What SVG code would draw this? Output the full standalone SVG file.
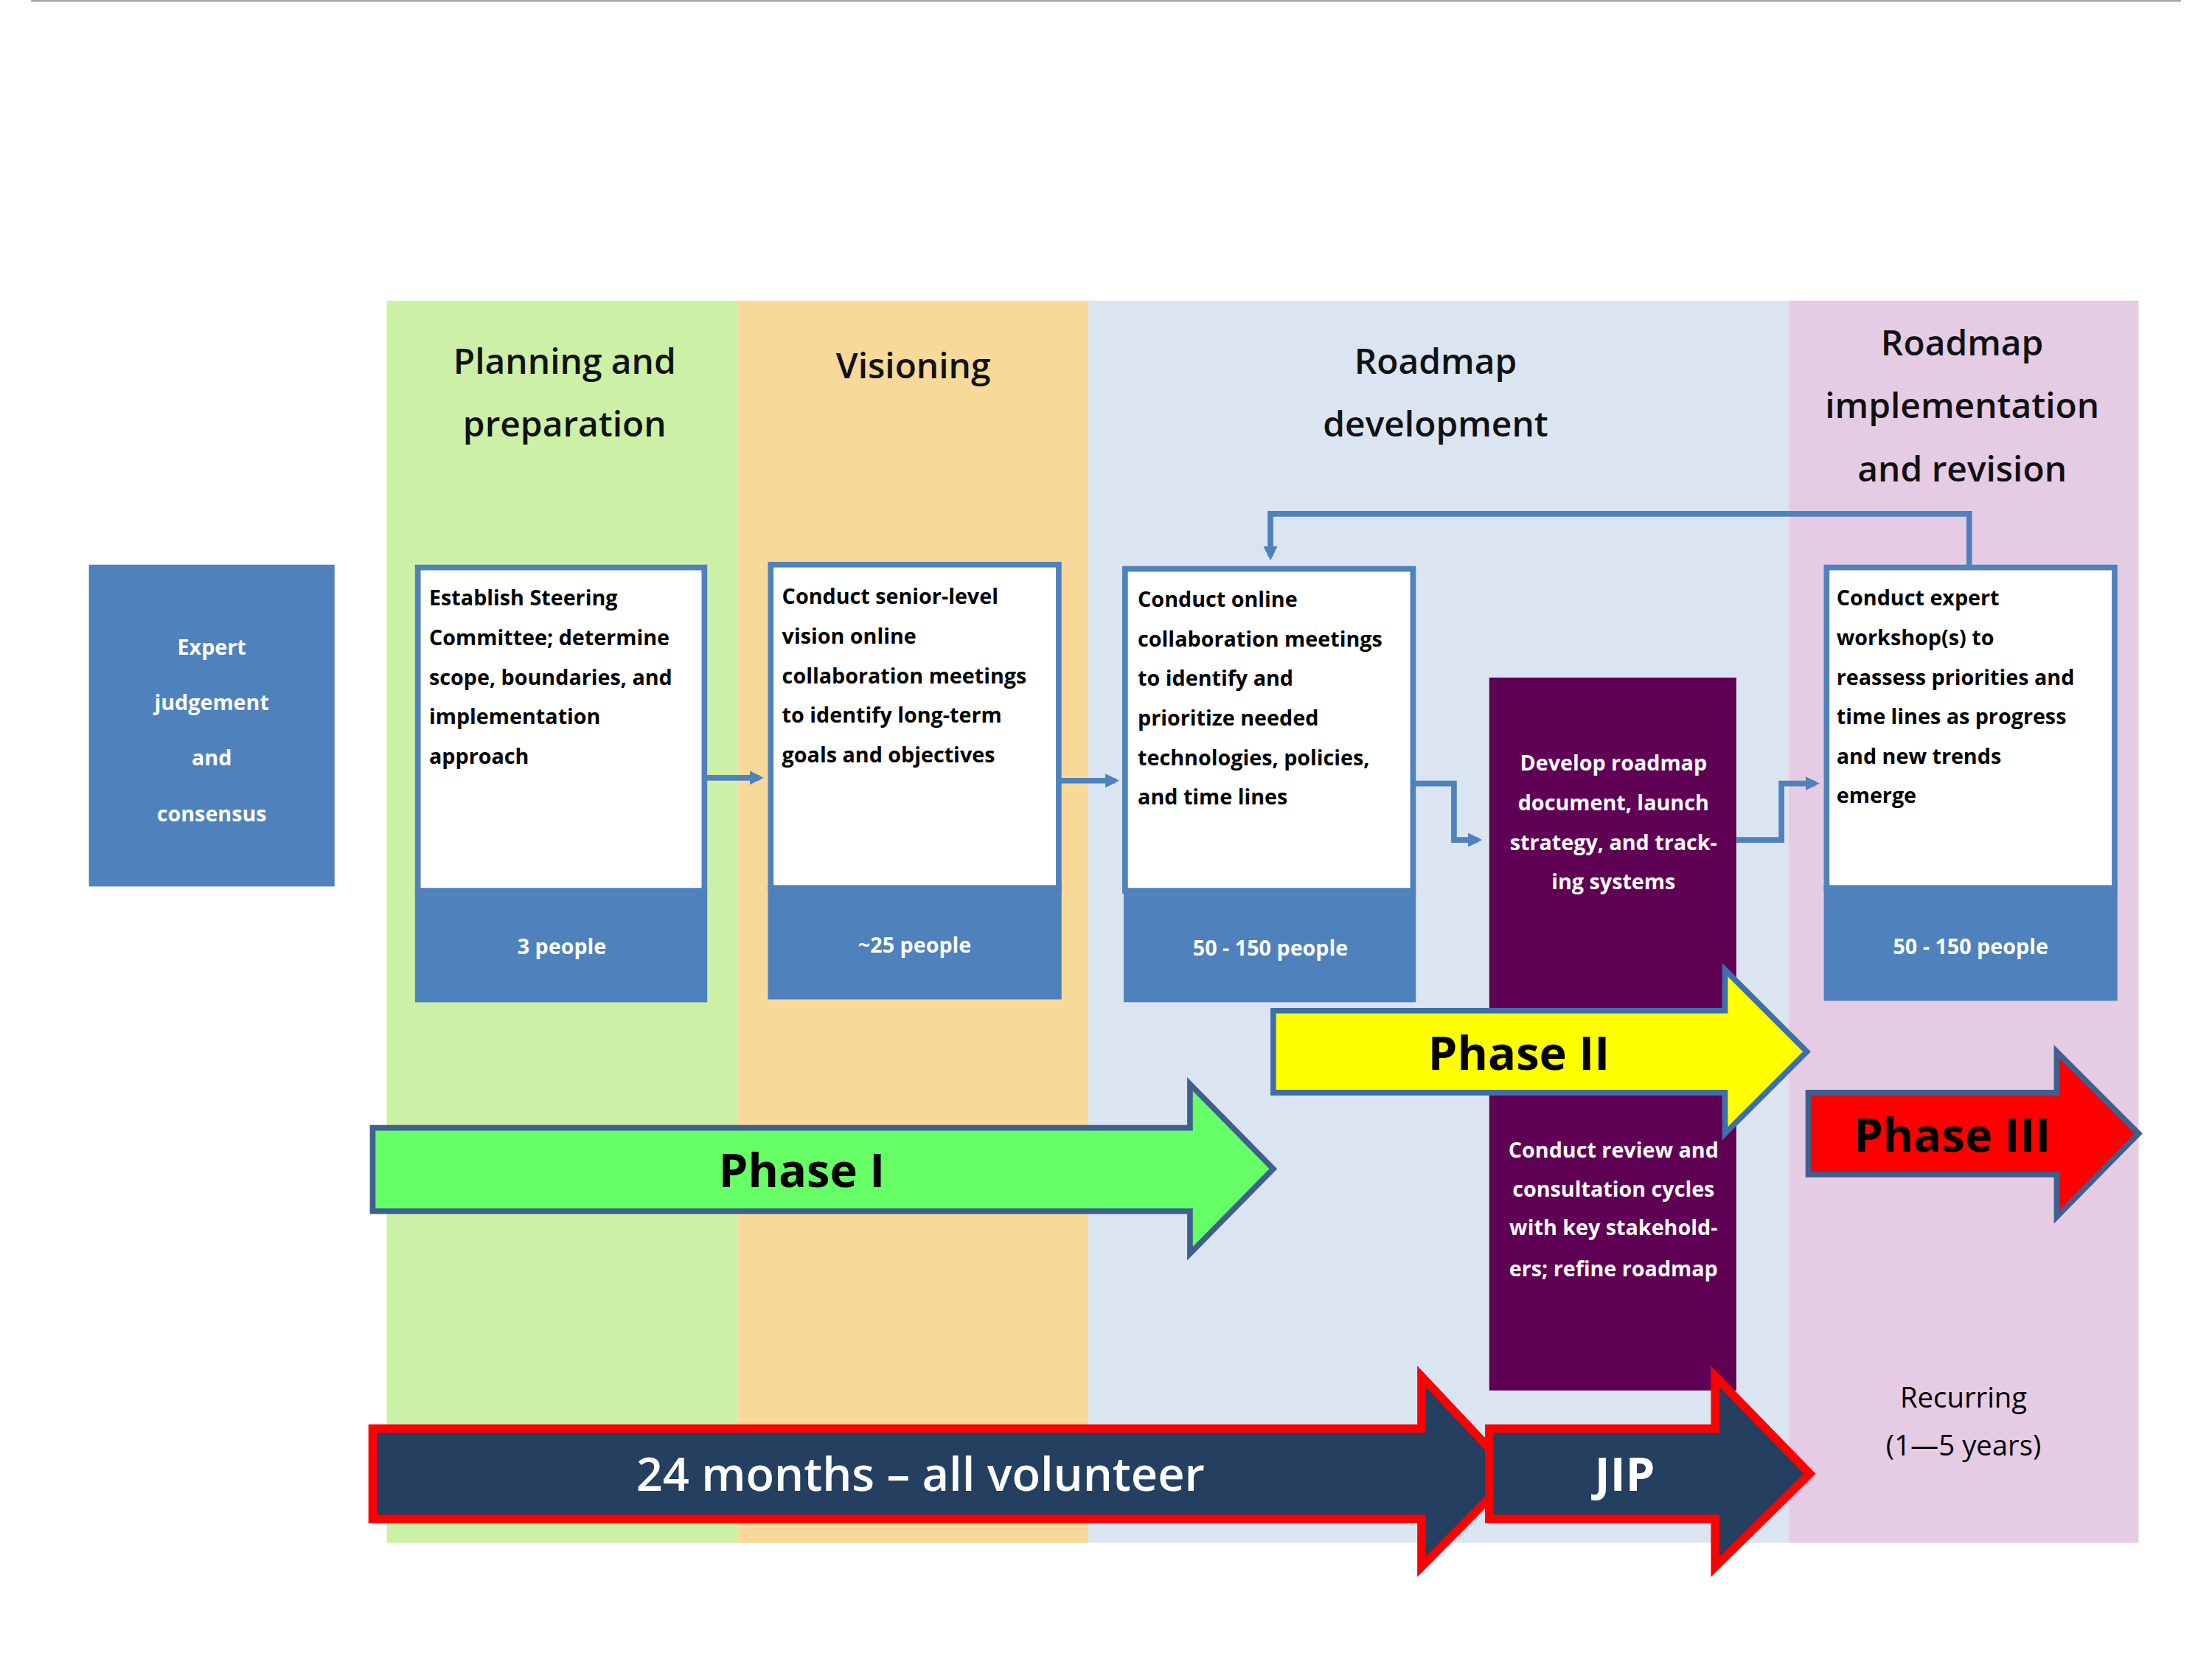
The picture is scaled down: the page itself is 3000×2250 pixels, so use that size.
<svg xmlns="http://www.w3.org/2000/svg" width="3000" height="2250" viewBox="0 0 3000 2250">
<defs>
<marker id="ah" markerWidth="10" markerHeight="10" refX="7" refY="5" orient="auto" markerUnits="userSpaceOnUse"><path d="M0,0 L10,5 L0,10 z" fill="#4f81bd"/></marker>
<style>
text{font-family:"Open Sans","Liberation Sans",sans-serif;font-weight:bold}
.t{font-size:15px;fill:#000}
.w{font-size:15px;fill:#fff}
.h{font-size:25px;font-weight:600;fill:#111;text-anchor:middle}
.c{text-anchor:middle}
.card{fill:#fff;stroke:#4f81bd;stroke-width:4}
.foot{fill:#4f81bd}
.con{fill:none;stroke:#4f81bd;stroke-width:4}
.big{font-size:33px;text-anchor:middle}
.n{font-size:20px;font-weight:normal;fill:#000;text-anchor:middle}
</style>
</defs>
<rect width="3000" height="2250" fill="#fff"/>
<g transform="scale(1.9145)">
<line x1="22" y1="0.5" x2="1545" y2="0.5" stroke="#a0a8b0" stroke-width="1.5"/>
<g id="columns">
<rect x="274" y="213" width="249" height="880" fill="#ccf0a5"/>
<rect x="523" y="213" width="248" height="880" fill="#f8d99a"/>
<rect x="771" y="213" width="496" height="880" fill="#dbe5f1"/>
<rect x="1267" y="213" width="248" height="880" fill="#e5cce4"/>
<text class="h" x="400" y="265">Planning and</text>
<text class="h" x="400" y="309">preparation</text>
<text class="h" x="647" y="268">Visioning</text>
<text class="h" x="1017" y="265">Roadmap</text>
<text class="h" x="1017" y="309">development</text>
<text class="h" x="1390" y="252">Roadmap</text>
<text class="h" x="1390" y="296">implementation</text>
<text class="h" x="1390" y="341">and revision</text>
</g>
<g id="expert">
<rect x="63" y="400" width="174" height="228" fill="#4f81bd"/>
<text class="w c" x="150" y="464">Expert</text>
<text class="w c" x="150" y="503">judgement</text>
<text class="w c" x="150" y="542">and</text>
<text class="w c" x="150" y="582">consensus</text>
</g>
<g id="box1">
<rect class="foot" x="294" y="628" width="207" height="82"/>
<rect class="card" x="296" y="402" width="203" height="229"/>
<text class="t" x="304" y="429">Establish Steering</text>
<text class="t" x="304" y="457">Committee; determine</text>
<text class="t" x="304" y="485">scope, boundaries, and</text>
<text class="t" x="304" y="513">implementation</text>
<text class="t" x="304" y="541">approach</text>
<text class="w c" x="398" y="676">3 people</text>
</g>
<g id="box2">
<rect class="foot" x="544" y="627" width="208" height="81"/>
<rect class="card" x="546" y="400" width="204" height="229"/>
<text class="t" x="554" y="428">Conduct senior-level</text>
<text class="t" x="554" y="456">vision online</text>
<text class="t" x="554" y="484">collaboration meetings</text>
<text class="t" x="554" y="512">to identify long-term</text>
<text class="t" x="554" y="540">goals and objectives</text>
<text class="w c" x="648" y="675">~25 people</text>
</g>
<g id="box3">
<rect class="foot" x="796" y="629" width="207" height="81"/>
<rect class="card" x="797" y="403" width="204" height="228"/>
<text class="t" x="806" y="430">Conduct online</text>
<text class="t" x="806" y="458">collaboration meetings</text>
<text class="t" x="806" y="486">to identify and</text>
<text class="t" x="806" y="514">prioritize needed</text>
<text class="t" x="806" y="542">technologies, policies,</text>
<text class="t" x="806" y="570">and time lines</text>
<text class="w c" x="900" y="677">50 - 150 people</text>
</g>
<g id="box4">
<rect class="foot" x="1292" y="627" width="208" height="82"/>
<rect class="card" x="1294" y="402" width="204" height="227"/>
<text class="t" x="1301" y="429">Conduct expert</text>
<text class="t" x="1301" y="457">workshop(s) to</text>
<text class="t" x="1301" y="485">reassess priorities and</text>
<text class="t" x="1301" y="513">time lines as progress</text>
<text class="t" x="1301" y="541">and new trends</text>
<text class="t" x="1301" y="569">emerge</text>
<text class="w c" x="1396" y="676">50 - 150 people</text>
</g>
<g id="purple">
<rect x="1055" y="480" width="175" height="505" fill="#5f0055"/>
<text class="w c" x="1143" y="546">Develop roadmap</text>
<text class="w c" x="1143" y="574">document, launch</text>
<text class="w c" x="1143" y="602">strategy, and track-</text>
<text class="w c" x="1143" y="630">ing systems</text>
<text class="w c" x="1143" y="820">Conduct review and</text>
<text class="w c" x="1143" y="848">consultation cycles</text>
<text class="w c" x="1143" y="875">with key stakehold-</text>
<text class="w c" x="1143" y="904">ers; refine roadmap</text>
</g>
<g id="connectors">
<path class="con" d="M499,551 H538" marker-end="url(#ah)"/>
<path class="con" d="M750,553 H790" marker-end="url(#ah)"/>
<path class="con" d="M1001,555 H1030 V595 H1047" marker-end="url(#ah)"/>
<path class="con" d="M1230,595 H1262 V555 H1286" marker-end="url(#ah)"/>
<path class="con" d="M1395,402 V364 H900 V394" marker-end="url(#ah)"/>
</g>
<g id="phase2">
<path d="M902,716 H1222 V687 L1280,745 L1222,803 V774 H902 Z" fill="#ffff00" stroke="#3f6fa8" stroke-width="4"/>
<text class="big" x="1076" y="758" fill="#000">Phase II</text>
</g>
<g id="phase1">
<path d="M264,799 H843 V768 L902,828 L843,888 V858 H264 Z" fill="#66ff66" stroke="#3f5f8f" stroke-width="4"/>
<text class="big" x="568" y="841" fill="#000">Phase I</text>
</g>
<g id="phase3">
<path d="M1281,774 H1457 V745 L1515,803 L1457,862 V832 H1281 Z" fill="#ff0000" stroke="#3f5f8f" stroke-width="4"/>
<text class="big" x="1383" y="816" fill="#000">Phase III</text>
</g>
<g id="months">
<path d="M264,1012 H1007 V975 L1072,1044 L1007,1110 V1076 H264 Z" fill="#243f60" stroke="#ff0000" stroke-width="6"/>
<text class="big" x="652" y="1056" fill="#fff" style="font-weight:600">24 months – all volunteer</text>
</g>
<g id="jip">
<path d="M1055,1012 H1215 V975 L1282,1044 L1215,1110 V1076 H1055 Z" fill="#243f60" stroke="#ff0000" stroke-width="6"/>
<text class="big" x="1151" y="1056" fill="#fff">JIP</text>
</g>
<g id="recurring">
<text class="n" x="1391" y="997">Recurring</text>
<text class="n" x="1391" y="1031">(1—5 years)</text>
</g>
</g>
</svg>
